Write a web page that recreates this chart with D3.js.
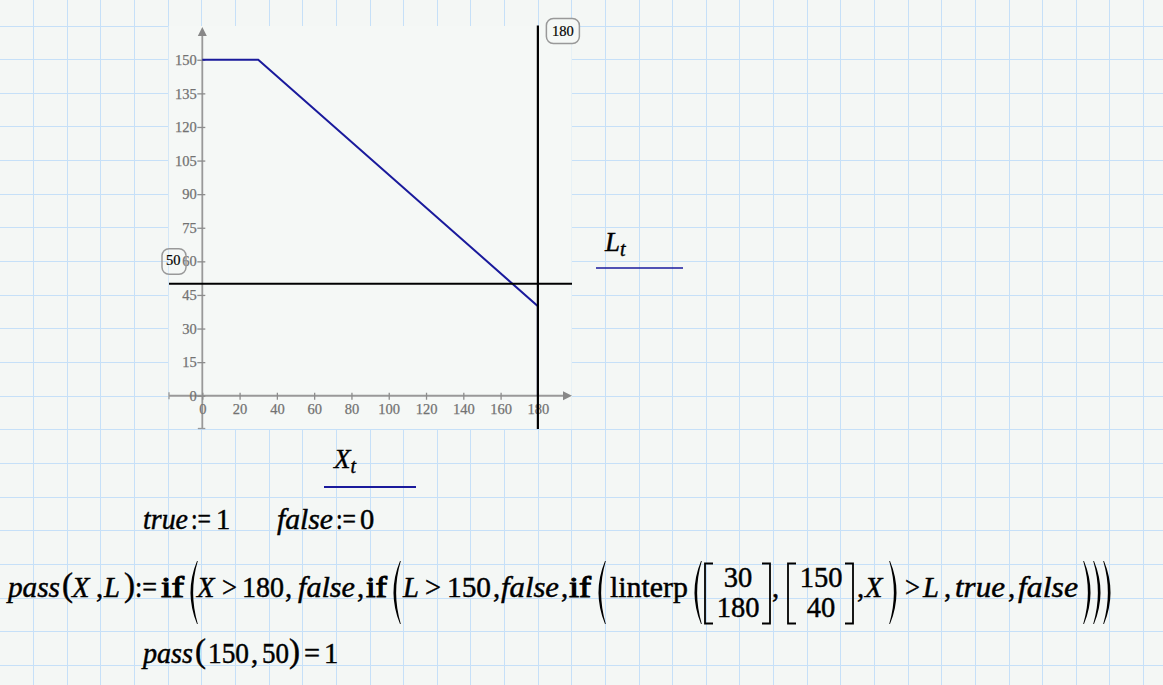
<!DOCTYPE html>
<html>
<head>
<meta charset="utf-8">
<script src="https://cdn.jsdelivr.net/npm/d3@7"></script>
<style>
body{margin:0;background:#f4f7f5;}
svg{display:block;}
</style>
</head>
<body>
<div id="chart"></div>
<script>
// mathcad sheet: L_t vs X_t

var Xt=[0,30,180,180];
var Lt=[150,150,40,0];
var xTicks=[0,20,40,60,80,100,120,140,160,180];
var yTicks=[0,15,30,45,60,75,90,105,120,135,150];
var markX=[180];
var markY=[50];

W=1163;H=685;
var svg=d3.select("#chart").append("svg").attr("width",W).attr("height",H);
var serif="Liberation Serif";
var ink="#1a1a9c";

svg.append("rect").attr("width",W).attr("height",H).attr("fill","#f4f7f5");

// sheet grid
var gs=33.63;
var grid=svg.append("g").attr("stroke","#c6e0f8").attr("stroke-width",1);
d3.range(1,35).forEach(function(k) {
	var gx=Math.round(gs*k-0.4)+0.5;
	grid.append("line").attr("x1",gx).attr("x2",gx).attr("y1",0).attr("y2",H);
})
d3.range(0,20).forEach(function(k) {
	var gy=Math.round(25.5+33.66*k)+0.5;
	grid.append("line").attr("x1",0).attr("x2",W).attr("y1",gy).attr("y2",gy);
})

// plot
var x=d3.scaleLinear().domain([-18.4,198.3]).range([168,572]);
var y=d3.scaleLinear().domain([-14.85,165.3]).range([429,25.5]);

svg.append("rect").attr("x",168.7).attr("y",26).attr("width",403).attr("height",403)
	.attr("fill","#f5f8f6");

var axc="#999";
// axis lines + arrows
svg.append("line").attr("x1",x.range()[0]+1).attr("x2",x.range()[1]-6).attr("y1",y(0)).attr("y2",y(0))
	.attr("stroke",axc).attr("stroke-width",1.8);
svg.append("path").attr("d","M"+x.range()[1]+","+y(0)+" l-9,-4.5 v9 Z").attr("fill","#888");
svg.append("line").attr("x1",x.range()[0]+1).attr("x2",x.range()[0]+1).attr("y1",y(0)-3.5).attr("y2",y(0)+3.5)
	.attr("stroke",axc).attr("stroke-width",1.3);

svg.append("line").attr("x1",x(0)).attr("x2",x(0)).attr("y1",y.range()[0]).attr("y2",y.range()[1]+8)
	.attr("stroke",axc).attr("stroke-width",1.8);
svg.append("path").attr("d","M"+x(0)+","+(y.range()[1]+1.5)+" l-4.5,9 h9 Z").attr("fill","#888");
svg.append("line").attr("x1",x(0)-4.5).attr("x2",x(0)+3).attr("y1",y.range()[0]-0.5).attr("y2",y.range()[0]-0.5)
	.attr("stroke",axc).attr("stroke-width",1.3);

var gY=svg.append("g").attr("transform","translate("+x(0)+",0)")
	.call(d3.axisLeft(y).tickValues(yTicks).tickSize(5).tickPadding(0.5).tickFormat(d3.format("d")));
gY.select(".domain").remove();
gY.attr("font-family",serif).attr("font-size",14.5);
gY.selectAll("line").attr("x1",3).attr("stroke","#8c8c8c").attr("stroke-width",1.3);
gY.selectAll("text").attr("fill","#727272").attr("stroke","#727272").attr("stroke-width",0.25);

var gX=svg.append("g").attr("transform","translate(0,"+y(0)+")")
	.call(d3.axisBottom(x).tickValues(xTicks).tickSize(4).tickFormat(d3.format("d")));
gX.select(".domain").remove();
gX.attr("font-family",serif).attr("font-size",14.5);
gX.selectAll("line").attr("y1",-3).attr("stroke","#8c8c8c").attr("stroke-width",1.3);
gX.selectAll("text").attr("y",18.3).attr("dy",0).attr("fill","#727272").attr("stroke","#727272").attr("stroke-width",0.25);

// trace
var pts=Xt.map(function(d,i) {return [d,Lt[i]];});
svg.append("path").datum(pts)
	.attr("d",d3.line().x(function(d) {return x(d[0]);}).y(function(d) {return y(d[1]);}))
	.attr("fill","none").attr("stroke",ink).attr("stroke-width",2);

// markers
svg.selectAll(".mx").data(markX).enter().append("line")
	.attr("x1",function(d) {return x(d);}).attr("x2",function(d) {return x(d);})
	.attr("y1",y.range()[1]).attr("y2",y.range()[0])
	.attr("stroke","#000").attr("stroke-width",2.2);
svg.selectAll(".my").data(markY).enter().append("line")
	.attr("x1",x.range()[0]+1).attr("x2",x.range()[1])
	.attr("y1",function(d) {return y(d);}).attr("y2",function(d) {return y(d);})
	.attr("stroke","#000").attr("stroke-width",2.2);

markX.forEach(function(d) {
	svg.append("rect").attr("x",x(d)+8.5).attr("y",18.5).attr("width",33).attr("height",25).attr("rx",7)
		.attr("fill","#f5f8f6").attr("stroke","#999").attr("stroke-width",1.5);
	svg.append("text").attr("x",x(d)+25).attr("y",36).attr("text-anchor","middle")
		.attr("font-family",serif).attr("font-size",14.5).attr("stroke","#000").attr("stroke-width",0.2).text(d);
})
markY.forEach(function(d) {
	svg.append("rect").attr("x",162).attr("y",y(d)-35).attr("width",24).attr("height",25.5).attr("rx",7)
		.attr("fill","none").attr("stroke","#999").attr("stroke-width",1.5);
	svg.append("text").attr("x",166).attr("y",y(d)-18.5)
		.attr("font-family",serif).attr("font-size",14.5).attr("stroke","#000").attr("stroke-width",0.2).text(d);
})

// axis names
function sub(xx,yy,a,b) {
	var t=svg.append("text").attr("x",xx).attr("y",yy).attr("font-family",serif).attr("font-style","italic")
		.attr("font-size",27).attr("stroke","#000").attr("stroke-width",0.4);
	t.append("tspan").text(a);
	t.append("tspan").attr("font-size",20).attr("dy",5).attr("dx",0).text(b);
}
sub(605,251,"L","t");
svg.append("line").attr("x1",596).attr("x2",683).attr("y1",268).attr("y2",268).attr("stroke",ink).attr("stroke-width",1.6);
sub(334,468,"X","t");
svg.append("line").attr("x1",324).attr("x2",416).attr("y1",487).attr("y2",487).attr("stroke",ink).attr("stroke-width",2.2);

// math regions
function tok(t,xx,yy,st,w) {
	var e=svg.append("text").attr("x",xx).attr("y",yy).attr("font-family",serif).attr("font-size",28.5)
		.attr("stroke","#000").attr("stroke-width",0.45).text(t);
	if(st=="i") e.attr("font-style","italic");
	if(st=="b") e.attr("stroke-width",1);
	if(st=="p") e.attr("font-size",33);
	if(st=="c") e.attr("text-anchor","middle");
	if(w) e.attr("textLength",w).attr("lengthAdjust","spacingAndGlyphs");
	return e;
}
function paren(xx,open) {
	var y0=561,y1=624,ym=(y0+y1)/2,p;
	if(open) p="M"+(xx+10)+","+y0+" Q"+(xx-3)+","+ym+" "+(xx+10)+","+y1+" L"+(xx+10.8)+","+y1+" Q"+(xx+1.5)+","+ym+" "+(xx+10.8)+","+y0+" Z";
	else p="M"+xx+","+y0+" Q"+(xx+13)+","+ym+" "+xx+","+y1+" L"+(xx-0.8)+","+y1+" Q"+(xx+8.5)+","+ym+" "+(xx-0.8)+","+y0+" Z";
	svg.append("path").attr("d",p).attr("fill","#000");
}
function brack(xx,open) {
	var d=open?"M"+(xx+8)+",563.5 H"+xx+" V623.5 H"+(xx+8):"M"+xx+",563.5 H"+(xx+8)+" V623.5 H"+xx;
	svg.append("path").attr("d",d).attr("fill","none").attr("stroke","#000").attr("stroke-width",1.8);
}

var r1=529;
tok("true",143,r1,"i",45);tok(":=",191,r1,"n",20);tok("1",216,r1,"n");
tok("false",277,r1,"i",56);tok(":=",336,r1,"n",20);tok("0",360,r1,"n");

var r2=597;
tok("pass",8,r2,"i",52);tok("(",62,r2-1,"p");tok("X",72,r2,"i");tok(",",96,r2,"n");tok("L",104,r2,"i");tok(")",124,r2-1,"p");
tok(":=",135,r2,"n",22);tok("if",161,r2,"b",23);
paren(187,true);
tok("X",197,r2,"i");tok(">",222,r2,"n",15);tok("180",242,r2,"n",42);tok(",",285,r2,"n");
tok("false",298,r2,"i",57);tok(",",357,r2,"n");tok("if",366,r2,"b",21);
paren(390,true);
tok("L",403,r2,"i");tok(">",425,r2,"n",16);tok("150",447,r2,"n",44);tok(",",493,r2,"n");
tok("false",501,r2,"i",58);tok(",",561,r2,"n");tok("if",569,r2,"b",22);
paren(595,true);
tok("linterp",610,r2,"n",78);
paren(691,true);
brack(705,true);
tok("30",738,587,"c");tok("180",738,617,"c");
brack(762,false);
tok(",",772,r2,"n");
brack(788,true);
tok("150",821,587,"c");tok("40",821,617,"c");
brack(845,false);
tok(",",857,r2,"n");tok("X",865,r2,"i");
paren(890,false);
tok(">",905,r2,"n",15);tok("L",923,r2,"i");tok(",",944,r2,"n");
tok("true",955,r2,"i",50);tok(",",1008,r2,"n");tok("false",1018,r2,"i",60);
paren(1084,false);paren(1094,false);paren(1104,false);

var r3=663;
tok("pass",143,r3,"i",50);tok("(",195,r3-1,"p");tok("150",208,r3,"n",41);tok(",",251,r3,"n");
tok("50",262,r3,"n",27);tok(")",289,r3-1,"p");tok("=",304,r3,"n",16);tok("1",324,r3,"n");
</script>
</body>
</html>
